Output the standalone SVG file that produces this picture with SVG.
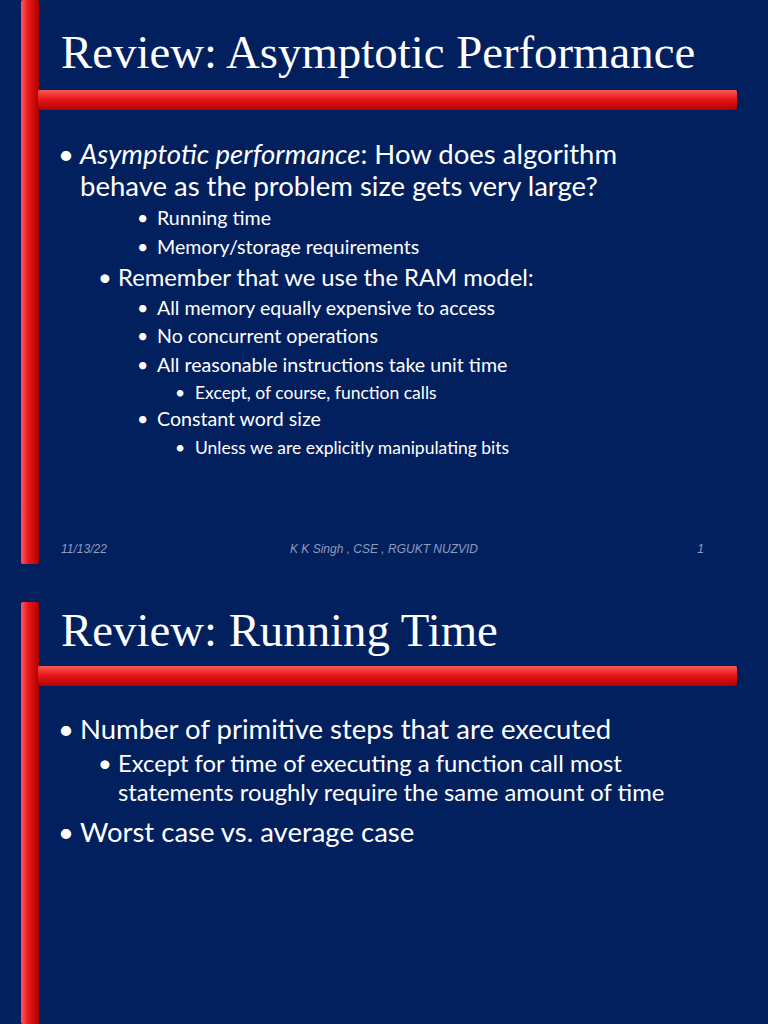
<svg xmlns="http://www.w3.org/2000/svg" width="768" height="1024" viewBox="0 0 768 1024">
<defs>
<linearGradient id="vg" x1="0" x2="1" y1="0" y2="0"><stop offset="0" stop-color="#ff5a5a"/><stop offset="0.4" stop-color="#e81818"/><stop offset="1" stop-color="#b00000"/></linearGradient>
<linearGradient id="hg" x1="0" x2="0" y1="0" y2="1"><stop offset="0" stop-color="#ff5a5a"/><stop offset="0.45" stop-color="#e81818"/><stop offset="1" stop-color="#b00000"/></linearGradient>
</defs>
<style>
.t{font-family:"Liberation Serif",serif;fill:#fff;font-size:46.8px}
.b{font-family:Lato,"Open Sans",sans-serif;fill:#fff}
.l1{font-size:27.5px}.l2{font-size:23.8px}.l3{font-size:19.6px}.l4{font-size:17.5px}
.f{font-family:"Liberation Sans",sans-serif;fill:#8d9cc0;font-size:12px;font-style:italic}
</style>
<rect width="768" height="1024" fill="#03205e"/>
<g id="slide1">
<rect x="21" y="0" width="18" height="564" fill="url(#vg)" rx="2"/>
<rect x="38" y="90" width="699" height="20" fill="url(#hg)" rx="2"/>
<text class="t" x="61" y="68">Review: Asymptotic Performance</text>
<g class="b">
<text class="l1" x="58" y="164">•</text><text class="l1" x="80" y="164"><tspan font-style="italic">Asymptotic performance</tspan>: How does algorithm</text>
<text class="l1" x="80" y="196">behave as the problem size gets very large?</text>
<text class="l3" x="137" y="225">•</text><text class="l3" x="157" y="225">Running time</text>
<text class="l3" x="137" y="254">•</text><text class="l3" x="157" y="254">Memory/storage requirements</text>
<text class="l2" x="98" y="286">•</text><text class="l2" x="118" y="286">Remember that we use the RAM model:</text>
<text class="l3" x="137" y="315">•</text><text class="l3" x="157" y="315">All memory equally expensive to access</text>
<text class="l3" x="137" y="343">•</text><text class="l3" x="157" y="343">No concurrent operations</text>
<text class="l3" x="137" y="372">•</text><text class="l3" x="157" y="372">All reasonable instructions take unit time</text>
<text class="l4" x="175" y="399">•</text><text class="l4" x="195" y="399">Except, of course, function calls</text>
<text class="l3" x="137" y="426">•</text><text class="l3" x="157" y="426">Constant word size</text>
<text class="l4" x="175" y="454">•</text><text class="l4" x="195" y="454">Unless we are explicitly manipulating bits</text>
</g>
<text class="f" x="61" y="553">11/13/22</text>
<text class="f" x="384" y="553" text-anchor="middle">K K Singh , CSE , RGUKT NUZVID</text>
<text class="f" x="704" y="553" text-anchor="end">1</text>
</g>
<g id="slide2">
<rect x="21" y="602" width="18" height="422" fill="url(#vg)" rx="2"/>
<rect x="38" y="666" width="699" height="20" fill="url(#hg)" rx="2"/>
<text class="t" x="61" y="646">Review: Running Time</text>
<g class="b">
<text class="l1" x="58" y="739">•</text><text class="l1" x="80" y="739">Number of primitive steps that are executed</text>
<text class="l2" x="98" y="772">•</text><text class="l2" x="118" y="772">Except for time of executing a function call most</text>
<text class="l2" x="118" y="801">statements roughly require the same amount of time</text>
<text class="l1" x="58" y="842">•</text><text class="l1" x="80" y="842">Worst case vs. average case</text>
</g>
</g>
</svg>
